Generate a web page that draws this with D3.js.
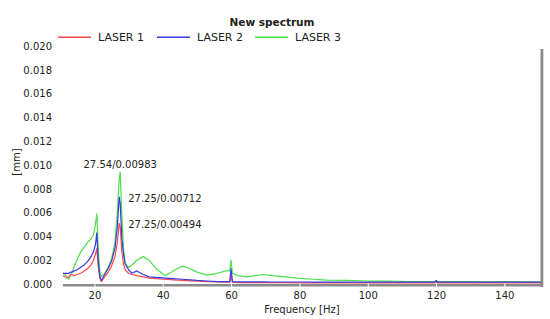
<!DOCTYPE html>
<html><head><meta charset="utf-8">
<script src="https://cdn.jsdelivr.net/npm/d3@7"></script>
<style>body{margin:0;background:#fff}svg{display:block}text{font-family:"DejaVu Sans",Verdana,sans-serif;fill:#222}</style>
</head><body>
<script>
const title = "New spectrum";
const seriesNames = ["LASER 1", "LASER 2", "LASER 3"];
const seriesColors = ["#ff4a4a", "#3a3ae0", "#4ce04c"];
const freq = [10.8,11.5,12,12.5,13,13.5,14,15,16,17,18,19,19.7,20.3,20.7,21.1,21.6,22,23,24,25,26,26.7,27.25,27.54,28,28.5,29,30,31,32.4,34.3,36,38,40.7,43,45.7,48,50,53,56,58.5,59.6,60,60.4,62,64.7,67,69.4,72,76,80,84,88,94,100,106,112,118,119.6,120,120.4,125,130,135,140,145,151];
const laser1 = [0.0007,0.0006,0.00055,0.0006,0.0008,0.0008,0.0007,0.0008,0.0009,0.0011,0.0013,0.0016,0.0020,0.0025,0.0030,0.0015,0.0005,0.0002,0.0006,0.0010,0.0015,0.0023,0.0035,0.0051,0.0048,0.0028,0.0017,0.0012,0.0009,0.0008,0.0007,0.0006,0.0005,0.00045,0.0004,0.00035,0.0003,0.00027,0.00024,0.0002,0.00018,0.00015,0.00015,0.0007,0.00015,0.00012,0.00012,0.00012,0.00012,0.00011,0.00011,0.0001,0.0001,0.0001,0.0001,0.0001,0.0001,0.0001,0.0001,0.0001,0.0002,0.0001,0.0001,0.0001,0.0001,0.0001,0.0001,0.0001];
const laser2 = [0.0009,0.0009,0.0009,0.0009,0.0010,0.0010,0.0011,0.0012,0.0014,0.0016,0.0019,0.0023,0.0027,0.0033,0.0043,0.0020,0.0006,0.0003,0.0008,0.0013,0.0019,0.0030,0.0048,0.0073,0.0068,0.0040,0.0025,0.0017,0.0012,0.0009,0.0011,0.0008,0.0006,0.00055,0.0005,0.00045,0.0004,0.00035,0.0003,0.00025,0.0002,0.0002,0.0002,0.0013,0.0002,0.00018,0.00018,0.00018,0.00018,0.00017,0.00017,0.00017,0.00016,0.00016,0.00016,0.00016,0.00016,0.00016,0.00016,0.00016,0.0003,0.00016,0.00016,0.00016,0.00016,0.00016,0.00016,0.00016];
const laser3 = [0.00085,0.0008,0.0005,0.0004,0.0007,0.0010,0.0014,0.0021,0.0027,0.0031,0.0035,0.0038,0.0041,0.0050,0.0059,0.0030,0.0010,0.0006,0.0009,0.0014,0.0021,0.0035,0.0060,0.0088,0.0094,0.0060,0.0030,0.0017,0.0014,0.0016,0.0020,0.0023,0.0020,0.0013,0.0007,0.0011,0.0015,0.0013,0.0010,0.00075,0.0009,0.0011,0.0011,0.0020,0.0009,0.0007,0.0006,0.0007,0.0008,0.0007,0.0006,0.00048,0.0004,0.00033,0.0003,0.00025,0.00025,0.0002,0.0002,0.0002,0.0003,0.0002,0.0002,0.0002,0.00018,0.0002,0.00018,0.00018];
const xTicks = [20,40,60,80,100,120,140];
const yTicks = [0,0.002,0.004,0.006,0.008,0.010,0.012,0.014,0.016,0.018,0.020];
const annotations = [
  {f:27.54, v:0.0094, label:"27.54/0.00983", s:1},
  {f:27.25, v:0.0073, label:"27.25/0.00712", s:2},
  {f:27.25, v:0.0051, label:"27.25/0.00494", s:3}
];

const W=550,H=319;
const svg=d3.select("body").append("svg").attr("width",W).attr("height",H);
const x=d3.scaleLinear().domain([10.8,151]).range([63,542]);
const y=d3.scaleLinear().domain([0,0.020]).range([284,46]);

// title
svg.append("text").attr("x",272).attr("y",26).attr("text-anchor","middle")
  .style("font-weight","bold").style("font-size","10.5px").text(title);
// legend
const lx=[58,157,255];
seriesNames.forEach((n,i)=>{
  svg.append("rect").attr("x",lx[i]).attr("width",33).attr("y",36.5).attr("height",1.5)
    .attr("fill",seriesColors[i]);
  svg.append("text").attr("x",lx[i]+40).attr("y",41).style("font-size","11px").text(n);
});

// y axis labels
const yAxis=d3.axisLeft(y).tickValues(yTicks).tickFormat(d3.format(".3f")).tickSize(0).tickPadding(0);
const ya=svg.append("g").attr("transform","translate(52,0)").call(yAxis);
ya.select(".domain").remove();
ya.selectAll("text").style("font-size","10px").style("fill","#222").style("font-family","DejaVu Sans");
svg.append("text").attr("transform","translate(20,162) rotate(-90)").attr("text-anchor","middle")
  .style("font-size","10px").text("[mm]");

// lines
svg.append("clipPath").attr("id","c").append("rect").attr("x",63).attr("y",46).attr("width",478).attr("height",240);
const data=[laser1,laser2,laser3];
const order=[2,0,1];
order.forEach(i=>{
  const line=d3.line().x((d,k)=>x(freq[k])).y(d=>y(d));
  svg.append("path").attr("clip-path","url(#c)").attr("d",line(data[i])).attr("fill","none")
    .attr("stroke",seriesColors[i]).attr("stroke-width",1.2).attr("stroke-linejoin","round");
});

// x axis
svg.append("rect").attr("x",63).attr("y",284).attr("width",480).attr("height",2.5).attr("fill","#8a8a8a");
svg.append("rect").attr("x",540.5).attr("y",49).attr("width",2.8).attr("height",238).attr("fill","#8a8a8a");
const xAxis=d3.axisBottom(x).tickValues(xTicks).tickSize(4).tickPadding(5);
const xa=svg.append("g").attr("transform","translate(0,283)").call(xAxis);
xa.select(".domain").remove();
xa.selectAll(".tick line").attr("stroke","#fff").attr("stroke-width",1);
xa.selectAll("text").style("font-size","10px").style("fill","#222").style("font-family","DejaVu Sans");
svg.append("text").attr("x",302).attr("y",313).attr("text-anchor","middle").style("font-size","10px").text("Frequency [Hz]");

// annotations
annotations.forEach(a=>{
  const t=svg.append("text").style("font-size","10px").text(a.label);
  if(a.s===1) t.attr("x",x(a.f)).attr("y",y(a.v)-4).attr("text-anchor","middle");
  else t.attr("x",x(a.f)+9).attr("y",y(a.v)+5);
});
</script>
</body></html>
